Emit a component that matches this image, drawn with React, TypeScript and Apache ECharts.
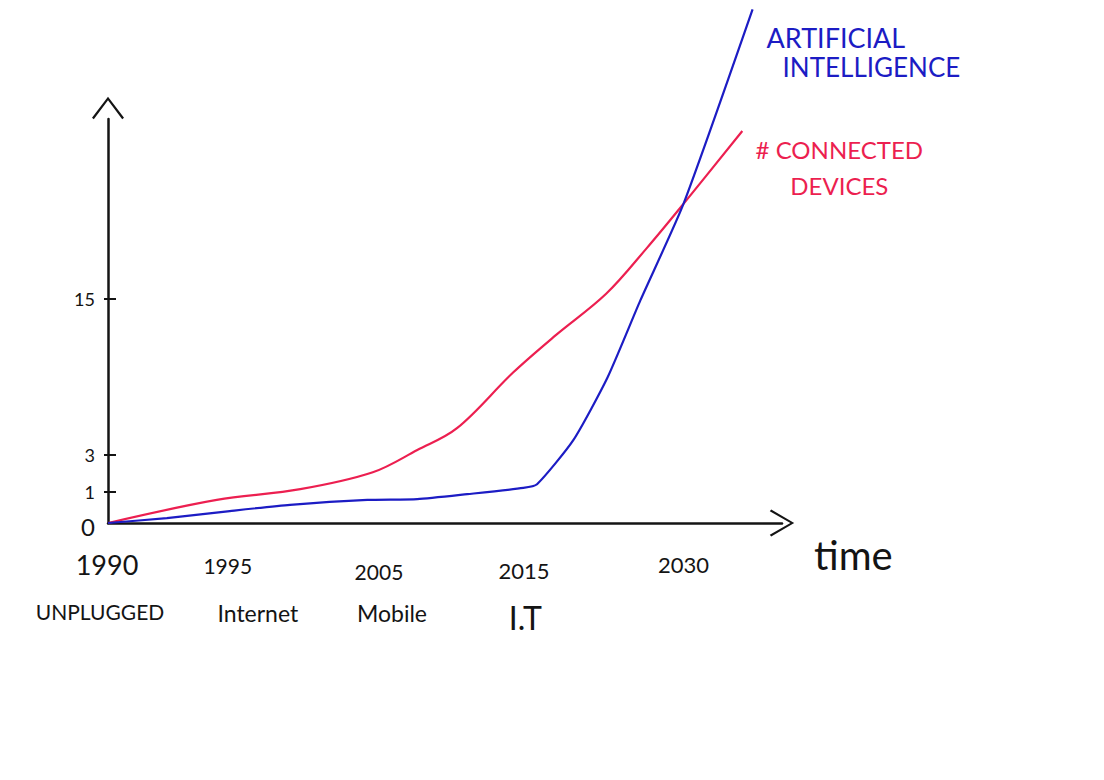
import React, { useEffect, useRef } from "react";
import * as echarts from "echarts";

// ---- data (axis units: x = share of the drawn time axis, y = share of the drawn value axis) ----
const X_MAX = 98.5;
const Y_MAX = 98;

const yearTickPos = [0, 17.5, 39.6, 60.8, 84.1];
const yearTickLabels = ["1990", "1995", "2005", "2015", "2030"];

const eraPos = [0, 21.9, 41.5, 61.0];
const eraLabels = ["UNPLUGGED", "Internet", "Mobile", "I.T"];

const levelTickPos = [0, 7.5, 16.5, 54.4];
const levelTickLabels = ["0", "1", "3", "15"];

const connectedDevices: [number, number][] = [
  [0, 0], [15.9, 5.6], [28.1, 8.2], [38.7, 12.3], [45.2, 17.7], [51.0, 23.0],
  [59.2, 36.5], [65.4, 45.5], [72.8, 55.6], [78.8, 66.8], [84.1, 77.4], [92.7, 95.1],
];

const artificialIntelligence: [number, number][] = [
  [0, 0], [8.6, 1.2], [17.8, 2.9], [26.6, 4.4], [37.9, 5.6], [45.2, 5.8], [52.5, 7.0],
  [60.7, 8.5], [62.7, 9.4], [68.0, 20.1], [73.0, 35.3], [77.8, 54.0], [84.1, 77.4], [94.2, 124.6],
];

const RED = "#ec1f50";
const BLUE = "#1c1cc4";
const INK = "#141414";
const FONT = "Lato, 'DejaVu Sans', sans-serif";

const yArrow = "path://M16 0 L32 21 L30.2 22.6 L16 3.6 L1.8 22.6 L0 21 Z";
const xArrow = "path://M13.5 0 L27 23 L25.2 24.4 L13.5 3.8 L1.8 24.4 L0 23 Z";

function pick(values: number[], labels: string[], v: number) {
  for (let i = 0; i < values.length; i++) {
    if (Math.abs(values[i] - v) < 1e-6) return { i, text: labels[i] };
  }
  return { i: -1, text: "" };
}

export default function App() {
  const ref = useRef<HTMLDivElement>(null);

  useEffect(() => {
    if (!ref.current) return;
    const chart = echarts.init(ref.current, undefined, { renderer: "svg" });
    chart.setOption({
      animation: false,
      backgroundColor: "#ffffff",
      grid: { left: 108, right: 322, top: 119, bottom: 257, containLabel: false },
      xAxis: [
        {
          type: "value",
          min: 0,
          max: X_MAX,
          name: "time",
          nameLocation: "end",
          nameGap: 32,
          nameTextStyle: {
            fontFamily: FONT,
            fontSize: 40,
            color: INK,
            verticalAlign: "top",
            padding: [12, 0, 0, 0],
          },
          axisLine: {
            show: true,
            onZero: false,
            symbol: ["none", xArrow],
            symbolSize: [27, 25],
            lineStyle: { color: INK, width: 2.5 },
          },
          axisTick: { show: false },
          splitLine: { show: false },
          axisLabel: {
            customValues: yearTickPos,
            hideOverlap: false,
            margin: 28,
            color: INK,
            fontFamily: FONT,
            formatter: (v: number) => {
              const p = pick(yearTickPos, yearTickLabels, v);
              return p.i === 0 ? `{big|${p.text}}` : `{sm${p.i}|${p.text}}`;
            },
            rich: {
              big: { fontSize: 27, fontFamily: FONT, color: INK, padding: [0, 2, 0, 0] },
              sm1: { fontSize: 21, fontFamily: FONT, color: INK, padding: [4, 0, 0, 0] },
              sm2: { fontSize: 21, fontFamily: FONT, color: INK, padding: [10, 0, 0, 0] },
              sm3: { fontSize: 22, fontFamily: FONT, color: INK, padding: [8, 0, 0, 0] },
              sm4: { fontSize: 22, fontFamily: FONT, color: INK, padding: [2, 0, 0, 0] },
            },
          },
        },
        {
          type: "value",
          min: 0,
          max: X_MAX,
          position: "bottom",
          axisLine: { show: false },
          axisTick: { show: false },
          splitLine: { show: false },
          axisLabel: {
            customValues: eraPos,
            hideOverlap: false,
            margin: 78,
            color: INK,
            fontFamily: FONT,
            fontSize: 23,
            formatter: (v: number) => {
              const p = pick(eraPos, eraLabels, v);
              if (p.i === 0) return `{u|${p.text}}`;
              if (p.i === 3) return `{t|${p.text}}`;
              return p.text;
            },
            rich: {
              u: { fontSize: 21, fontFamily: FONT, color: INK, padding: [0, 16, 0, 0] },
              t: { fontSize: 32, fontFamily: FONT, color: INK, padding: [0, 0, 0, 0] },
            },
          },
        },
      ],
      yAxis: [
        {
          type: "value",
          min: 0,
          max: Y_MAX,
          axisLine: {
            show: true,
            onZero: false,
            symbol: ["none", yArrow],
            symbolSize: [32, 23],
            symbolOffset: [0, 11],
            lineStyle: { color: INK, width: 2.5 },
          },
          axisTick: {
            show: true,
            customValues: levelTickPos.slice(1),
            length: 4,
            lineStyle: { color: INK, width: 2 },
          },
          splitLine: { show: false },
          axisLabel: {
            customValues: levelTickPos,
            hideOverlap: false,
            margin: 13,
            color: INK,
            fontFamily: FONT,
            fontSize: 18,
            formatter: (v: number) => {
              const p = pick(levelTickPos, levelTickLabels, v);
              return p.i === 0 ? `{z|${p.text}}` : p.text;
            },
            rich: {
              z: { fontSize: 24, fontFamily: FONT, color: INK, padding: [6, 0, 0, 0] },
            },
          },
        },
        {
          type: "value",
          min: 0,
          max: Y_MAX,
          position: "left",
          axisLine: { show: false },
          axisTick: {
            show: true,
            inside: true,
            customValues: levelTickPos.slice(1),
            length: 8,
            lineStyle: { color: INK, width: 2 },
          },
          axisLabel: { show: false },
          splitLine: { show: false },
        },
      ],
      series: [
        {
          name: "# CONNECTED DEVICES",
          type: "line",
          data: connectedDevices,
          showSymbol: false,
          smooth: 0.35,
          clip: false,
          lineStyle: { color: RED, width: 2.2 },
          itemStyle: { color: RED },
          endLabel: {
            show: true,
            formatter: "# CONNECTED\nDEVICES",
            align: "center",
            verticalAlign: "middle",
            offset: [89, 37],
            color: RED,
            fontFamily: FONT,
            fontSize: 24,
            lineHeight: 36,
          },
          z: 3,
        },
        {
          name: "ARTIFICIAL INTELLIGENCE",
          type: "line",
          data: artificialIntelligence,
          showSymbol: false,
          smooth: 0.2,
          clip: false,
          lineStyle: { color: BLUE, width: 2.2 },
          itemStyle: { color: BLUE },
          endLabel: {
            show: true,
            formatter: "{a|ARTIFICIAL}\n{b|INTELLIGENCE}",
            align: "left",
            verticalAlign: "middle",
            offset: [6, 43],
            color: BLUE,
            fontFamily: FONT,
            fontSize: 26,
            lineHeight: 29,
            rich: {
              a: { fontSize: 27, fontFamily: FONT, color: BLUE, lineHeight: 29 },
              b: { fontSize: 26, fontFamily: FONT, color: BLUE, lineHeight: 29, padding: [0, 0, 0, 16] },
            },
          },
          z: 4,
        },
      ],
    });
    return () => chart.dispose();
  }, []);

  return (
    <div
      ref={ref}
      style={{ position: "fixed", left: 0, top: 0, width: 1104, height: 780, background: "#fff" }}
    />
  );
}
